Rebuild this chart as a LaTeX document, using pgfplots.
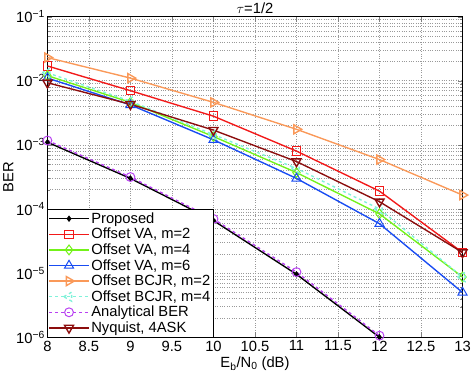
\documentclass[border=0pt]{standalone}
\usepackage{pgfplots}
\pgfplotsset{compat=1.18}
\usepackage{fontspec}
\setmainfont{Liberation Sans}
\definecolor{cred}{rgb}{0.95,0.1,0.1}
\definecolor{cgreen}{rgb}{0.45,0.95,0.1}
\definecolor{cblue}{rgb}{0.1,0.3,0.95}
\definecolor{corange}{rgb}{0.98,0.6,0.35}
\definecolor{ccyan}{rgb}{0.5,0.95,0.85}
\definecolor{cpurple}{rgb}{0.72,0.25,0.95}
\definecolor{cbrown}{rgb}{0.55,0.05,0.05}
\begin{document}
\begin{tikzpicture}
\begin{axis}[
  scale only axis,
  width=422pt, height=326pt,
  ymode=log,
  xmin=8, xmax=13, ymin=1e-6, ymax=1e-1,
  xtick={8,8.5,...,13},
  ytick={1e-6,1e-5,1e-4,1e-3,1e-2,1e-1},
  yticklabels={10\textsuperscript{−6},10\textsuperscript{−5},10\textsuperscript{−4},10\textsuperscript{−3},10\textsuperscript{−2},10\textsuperscript{−1}},
  /pgf/number format/assume math mode=true,
  /pgf/number format/fixed,
  tick label style={font=\fontsize{15}{17}\selectfont},
  grid=both,
  major grid style={dotted, gray!80, line width=0.5pt},
  minor grid style={dotted, gray!80, line width=0.5pt},
  minor x tick num=0,
  tick align=inside,
  major tick length=5pt, minor tick length=3pt,
  axis line style={black, line width=0.9pt},
  title={$\tau$=1/2},
  title style={font=\fontsize{15}{17}\selectfont, yshift=-7pt},
  xlabel={E\textsubscript{b}/N\textsubscript{0} (dB)},
  ylabel={BER},
  label style={font=\fontsize{15}{17}\selectfont},
  xlabel style={yshift=1pt},
  ylabel style={yshift=-4pt},
  yticklabel style={xshift=1pt},
  legend cell align=left,
  legend style={at={(0,0)}, anchor=south west, draw=black, line width=0.7pt,
    font=\fontsize{15}{17}\selectfont, inner sep=1pt, row sep=-0.5pt,
    legend image code/.code={\draw[mark repeat=2,mark phase=2] plot coordinates {(0cm,0cm) (0.7cm,0cm) (1.4cm,0cm)};}},
  every axis plot/.append style={line width=1.4pt},
  mark options={solid, line width=1pt},
]
\addplot[black, mark=diamond*, mark size=2.5pt] coordinates {(8,1.1e-3)(9,3.0e-4)(10,6.6e-5)(11,9.6e-6)(12,1.0e-6)};
\addlegendentry{Proposed}
\addplot[cred, mark=square, mark size=4.3pt] coordinates {(8,1.7e-2)(9,7.0e-3)(10,2.8e-3)(11,8.0e-4)(12,1.9e-4)(13,2.1e-5)};
\addlegendentry{Offset VA, m=2}
\addplot[cgreen, mark=diamond, mark size=5pt] coordinates {(8,1.2e-2)(9,4.6e-3)(10,1.35e-3)(11,3.7e-4)(12,8.4e-5)(13,8.7e-6)};
\addlegendentry{Offset VA, m=4}
\addplot[cblue, mark=triangle, mark size=5.3pt] coordinates {(8,1.1e-2)(9,4.2e-3)(10,1.2e-3)(11,3.0e-4)(12,5.9e-5)(13,5.0e-6)};
\addlegendentry{Offset VA, m=6}
\addplot[corange, mark=triangle, mark size=5.3pt, mark options={rotate=-90}] coordinates {(8,2.3e-2)(9,1.1e-2)(10,4.6e-3)(11,1.75e-3)(12,5.9e-4)(13,1.65e-4)};
\addlegendentry{Offset BCJR, m=2}
\addplot[ccyan, dashed, mark=triangle, mark size=5.3pt, mark options={rotate=90}] coordinates {(8,1.33e-2)(9,4.8e-3)(10,1.45e-3)(11,4.3e-4)(12,1.0e-4)(13,8.7e-6)};
\addlegendentry{Offset BCJR, m=4}
\addplot[cpurple, dashed, mark=o, mark size=4.5pt] coordinates {(8,1.17e-3)(9,3.15e-4)(10,7.0e-5)(11,1.04e-5)(12,1.06e-6)};
\addlegendentry{Analytical BER}
\addplot[cbrown, mark=triangle, mark size=5.3pt, mark options={rotate=180}] coordinates {(8,9.3e-3)(9,4.3e-3)(10,1.7e-3)(11,5.5e-4)(12,1.3e-4)(13,2.1e-5)};
\addlegendentry{Nyquist, 4ASK}
\end{axis}
\end{tikzpicture}
\end{document}
